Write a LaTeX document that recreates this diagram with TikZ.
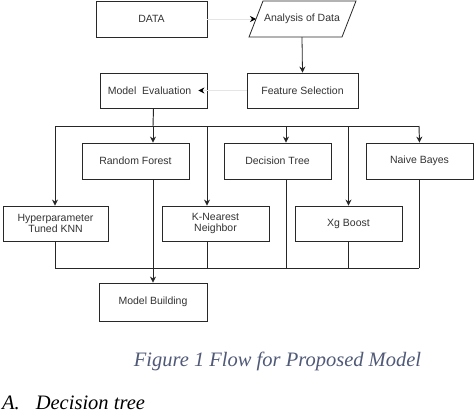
\documentclass[tikz,border=0pt]{standalone}
\usepackage{fontspec}
\setmainfont{Liberation Sans}
\newfontfamily\capfont{Liberation Serif}
\usetikzlibrary{arrows.meta}
\definecolor{boxline}{RGB}{40,40,40}
\definecolor{captxt}{RGB}{80,90,120}
\tikzset{
  box/.style={draw=boxline, line width=0.8pt, minimum width=#1, minimum height=35pt, inner sep=1pt, font=\fontsize{10.5}{11.5}\selectfont, text=black!80, align=center},
  box/.default=108pt,
  conn/.style={draw=black!85, line width=0.95pt},
  arr/.style={conn, -{Stealth[length=6pt,width=6pt]}},
  faint/.style={draw=black!10, line width=0.8pt, -{Stealth[length=6pt,width=6pt,color=black,fill=black]}},
}
\begin{document}
\begin{tikzpicture}[x=1pt,y=-1pt]
\useasboundingbox[fill=white] (0,0) rectangle (474,415);
% top row
\node[box=111pt, minimum height=36pt] (data) at (151.5,19) {DATA};
\draw[boxline, line width=0.8pt] (249,37) -- (263,1) -- (356,1) -- (342,37) -- cycle;
\node[font=\fontsize{10.5}{11.5}\selectfont, text=black!80, minimum width=80pt, minimum height=36pt, inner sep=0pt] (ana) at (302,19) {Analysis of Data};
\coordinate (anaL) at (256,19);
% second row
\node[box=107pt] (me) at (153.5,90.5) {Model\ \ Evaluation\hspace{8pt}};
\node[box=111pt] (fs) at (302.5,90.5) {Feature Selection};
% third row
\node[box=107pt, minimum height=36pt] (rf) at (135.5,161) {Random Forest};
\node[box=107pt, minimum height=36pt] (dt) at (277.5,161) {Decision Tree};
\node[box=107pt, minimum height=36pt] (nb) at (419.5,161) {Naive Bayes};
% fourth row
\node[box=105pt, minimum height=35pt] (hk) at (55.5,223.5) {Hyperparameter\\[-1pt]Tuned KNN};
\node[box=107pt, minimum height=35pt] (kn) at (215.5,223.5) {K-Nearest\\[-1pt]Neighbor};
\node[box=107pt, minimum height=35pt] (xg) at (348.5,223.5) {Xg Boost};
% bottom
\node[box=108pt, minimum height=38pt] (mb) at (153,302) {Model Building};
% bus coordinates
\coordinate (b1) at (55,126);
\coordinate (b2) at (419,126);
\coordinate (brf) at (153,126);
\coordinate (bdt) at (286,126);
\coordinate (bkn) at (207,126);
\coordinate (c1) at (55,268);
\coordinate (c2) at (419,268);
% faint arrows
\draw[faint] (data.east) -- (anaL);
\draw[faint, shorten >=-1pt] (fs.west) -- ([xshift=-8pt]me.east);
% analysis -> feature
\draw[arr, line width=0.8pt] (ana.south) -- (fs.north);
% model evaluation down to bus
\draw[conn] (me.south) -- (brf);
\draw[conn] (b1) -- (b2);
\draw[arr] (brf) -- (brf |- rf.north);
\draw[arr] (bdt) -- (bdt |- dt.north);
\draw[arr] (b2) -- (nb.north);
\draw[arr] (b1) -- (hk.north -| b1);
\draw[arr] (bkn) -- (bkn |- kn.north);
\draw[arr] (xg.north |- b1) -- (xg.north);
% lower collectors
\draw[conn] (c1) -- (c2);
\draw[conn] (hk.south -| c1) -- (c1);
\draw[conn] (bkn |- kn.south) -- (bkn |- c1);
\draw[conn] (xg.south) -- (xg.south |- c1);
\draw[conn] (bdt |- dt.south) -- (bdt |- c1);
\draw[conn] (nb.south -| c2) -- (c2);
\draw[arr, line width=0.8pt] (brf |- rf.south) -- (mb.north);
% captions
\node[font=\capfont\itshape\fontsize{20.5}{24}\selectfont, text=captxt, anchor=base] (cap) at (277.5,366) {Figure 1 Flow for Proposed Model};
\node[font=\capfont\itshape\fontsize{20.5}{24}\selectfont, text=black, anchor=base west, inner sep=0pt] (sec) at (2,409) {A.\hspace{16pt}Decision tree};
\end{tikzpicture}
\end{document}
